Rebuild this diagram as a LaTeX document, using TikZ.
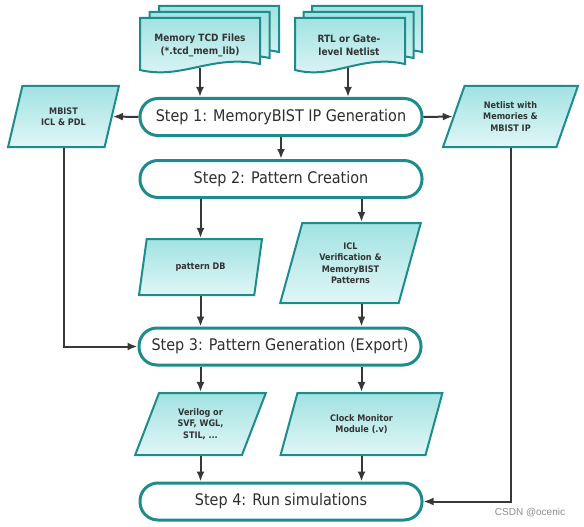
\documentclass[tikz,border=0pt]{standalone}
\usepackage{fontspec}
\setmainfont{DejaVu Sans Condensed}
\newfontfamily\wmfont{Liberation Sans}
\usetikzlibrary{shapes.geometric}
\usetikzlibrary{arrows.meta}

\definecolor{tealline}{HTML}{1E8C8C}
\definecolor{cyantop}{HTML}{A2E2E2}
\definecolor{cyanbot}{HTML}{E0F6F6}
\definecolor{arrowgray}{HTML}{383838}

\tikzset{
	stepbox/.style={draw=tealline,line width=3pt,fill=white,rounded corners=18pt,minimum width=282pt,minimum height=37pt,font=\fontsize{16}{18}\selectfont,text=black!82},
	databox/.style={trapezium,trapezium left angle=67,trapezium right angle=113,trapezium stretches=true,draw=tealline,line width=2pt,top color=cyantop,bottom color=cyanbot,align=center,inner sep=0pt,font=\bfseries\fontsize{9}{11.5}\selectfont,text=black!80},
	docpage/.style={draw=tealline,line width=2pt,top color=cyantop,bottom color=cyanbot},
	doctext/.style={align=center,font=\bfseries\fontsize{10}{13}\selectfont,text=black!80},
	flow/.style={->,draw=arrowgray,line width=2pt}
}

\begin{document}
\begin{tikzpicture}[x=1pt,y=-1pt,>={Latex[length=10pt,width=8pt]}]
	\useasboundingbox (0,0) rectangle (584,527);
	\fill[white] (0,0) rectangle (584,527);

	%input documents
	\filldraw[docpage] (159,6)--(279,6)--(279,52) .. controls (231,42) and (201,68) .. (159,58)--cycle;		%memory back
	\filldraw[docpage] (149.5,12)--(269.5,12)--(269.5,58) .. controls (221.5,48) and (191.5,74) .. (149.5,64)--cycle;
	\filldraw[docpage] (140,18)--(260,18)--(260,64) .. controls (212,54) and (182,80) .. (140,70)--cycle;		%memory front
	\filldraw[docpage] (312,6)--(422,6)--(422,52) .. controls (378,42) and (350.5,68) .. (312,58)--cycle;		%rtl back
	\filldraw[docpage] (303.5,12)--(413.5,12)--(413.5,58) .. controls (369.5,48) and (342,74) .. (303.5,64)--cycle;
	\filldraw[docpage] (295,18)--(405,18)--(405,64) .. controls (361,54) and (333.5,80) .. (295,70)--cycle;	%rtl front
	\node[doctext] (memdoc) at (200,45) {Memory TCD Files\\(*.tcd\_mem\_lib)};
	\node[doctext] (rtldoc) at (349,45) {RTL or Gate-\\level Netlist};
	\coordinate (memdocend) at (200,68);
	\coordinate (rtldocend) at (348,68);

	%steps
	\node[stepbox] (step1) at (281,117)   {Step 1: MemoryBIST IP Generation};
	\node[stepbox] (step2) at (281,179)   {Step 2: Pattern Creation};
	\node[stepbox] (step3) at (280,346.5) {Step 3: Pattern Generation (Export)};
	\node[stepbox] (step4) at (281,501.5) {Step 4: Run simulations};

	%data
	\node[databox,minimum width=111pt,minimum height=61pt] (mbist)   at (63.5,116.5)  {MBIST\\ICL \& PDL};
	\node[databox,minimum width=135pt,minimum height=61pt] (netlist) at (510.5,116.5) {Netlist with\\Memories \&\\MBIST IP};
	\node[databox,minimum width=123pt,minimum height=56pt] (patdb)   at (200.5,267)   {pattern DB};
	\node[databox,minimum width=141pt,minimum height=80pt,trapezium left angle=71,trapezium right angle=109] (iclver) at (350.5,263) {ICL\\Verification \&\\MemoryBIST\\Patterns};
	\node[databox,minimum width=131pt,minimum height=62pt] (verilog)  at (200.5,424)  {Verilog or\\SVF, WGL,\\STIL, ...};
	\node[databox,minimum width=163pt,minimum height=62pt] (clockmon) at (361.5,424)  {Clock Monitor\\Module (.v)};
	\coordinate (icltop) at ([xshift=11pt]iclver.north);
	\coordinate (iclbot) at ([xshift=11pt]iclver.south);

	%arrows
	\draw[flow] (memdocend)--(memdocend |- step1.north);
	\draw[flow] (rtldocend)--(rtldocend |- step1.north);
	\draw[flow] (step1.west)--(mbist.east);
	\draw[flow] (step1.east)--(netlist.west);
	\draw[flow] (step1.south)--(step2.north);
	\draw[flow] (step2.south -| patdb.north)--(patdb.north);
	\draw[flow] (icltop |- step2.south)--(icltop);
	\draw[flow] (patdb.south)--(patdb.south |- step3.north);
	\draw[flow] (iclbot)--(iclbot |- step3.north);
	\draw[flow] (mbist.south) |- (step3.west);
	\draw[flow] (step3.south -| verilog.north)--(verilog.north);
	\draw[flow] (step3.south -| clockmon.north)--(clockmon.north);
	\draw[flow] (verilog.south)--(verilog.south |- step4.north);
	\draw[flow] (clockmon.south)--(clockmon.south |- step4.north);
	\draw[flow] (netlist.south) |- (step4.east);

	\node[font=\wmfont\fontsize{10}{12}\selectfont,text=black!45] (mark) at (530,513) {CSDN @ocenic};
\end{tikzpicture}
\end{document}
